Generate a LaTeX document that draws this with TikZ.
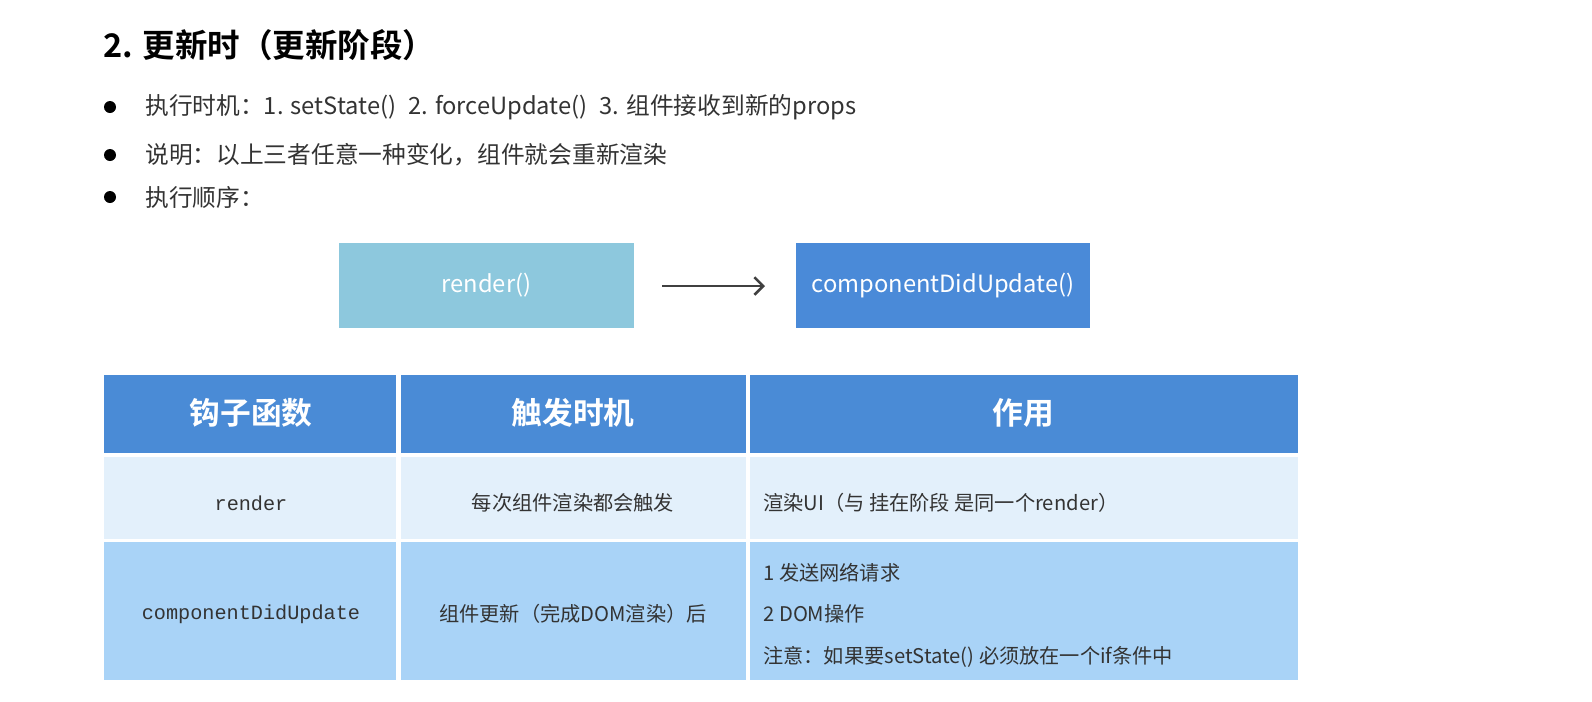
\documentclass[tikz,border=0pt]{standalone}
\usepackage{fontspec}
\setmainfont{Noto Sans CJK SC}
\newfontfamily\cjkbold{Noto Sans CJK SC Bold}
\setmonofont{Liberation Mono}
\usetikzlibrary{positioning,arrows.meta}
\definecolor{lightbox}{HTML}{8DC8DD}
\definecolor{darkbox}{HTML}{4A8AD8}
\definecolor{headfill}{HTML}{4A8BD6}
\definecolor{rowone}{HTML}{E3F0FB}
\definecolor{rowtwo}{HTML}{A9D3F7}
\definecolor{txt}{HTML}{333333}

\begin{document}
\begin{tikzpicture}[x=0.02cm,y=-0.02cm,
    stage/.style={minimum width=5.9cm,minimum height=1.7cm,inner sep=0pt,text=white,font=\fontsize{13.5}{15}\selectfont},
    cell/.style={anchor=west,inner sep=0pt,text=txt,font=\fontsize{11.5}{13}\selectfont},
    bullet/.style={anchor=west,inner sep=0pt,text=txt,font=\fontsize{13.5}{15}\selectfont}]
    \useasboundingbox[fill=white] (0,0) rectangle (1592,701);

    % Title and bullets
    \node[anchor=west,inner sep=0pt,font=\cjkbold\fontsize{18.5}{20}\selectfont] (title) at (103,45) {2. 更新时（更新阶段）};
    \foreach \y/\txt [count=\i] in {107/{执行时机：1. setState()\enspace 2. forceUpdate()\enspace 3. 组件接收到新的props},
        155/{说明：以上三者任意一种变化，组件就会重新渲染},
        197/{执行顺序：}} {
        \fill[black] (110,\y) circle (6);
        \node[bullet] (item\i) at (145,\y) {\txt};
    }

    % Order
    \node[stage,fill=lightbox] (render) at (486.5,285.5) {render()};
    \node[stage,fill=darkbox] (didupdate) at (943,285.5) {componentDidUpdate()};
    \coordinate (from) at (662,286);
    \coordinate (to) at (765,286);
    \draw[-{Straight Barb[length=5pt]},line width=1.5pt,black!75] (from) -- (to);

    % Table
    \fill[headfill] (104,375) rectangle (1298,453);
    \fill[rowone] (104,457) rectangle (1298,539);
    \fill[rowtwo] (104,542) rectangle (1298,680);
    \draw[white,line width=2.5pt] (398.5,375) -- (398.5,680) (748,375) -- (748,680);

    \node[font=\cjkbold\fontsize{17.5}{19}\selectfont,text=white] (hhook) at (251,413) {钩子函数};
    \node[font=\cjkbold\fontsize{17.5}{19}\selectfont,text=white] (hwhen) at (573,413) {触发时机};
    \node[font=\cjkbold\fontsize{17.5}{19}\selectfont,text=white] (huse) at (1023,413) {作用};

    \node[text=txt,font=\ttfamily\fontsize{11.5}{13}\selectfont] (rname) at (251,503) {render};
    \node[text=txt,font=\fontsize{11.5}{13}\selectfont] (rwhen) at (573,503) {每次组件渲染都会触发};
    \node[cell] (ruse) at (763,503) {渲染UI（与 挂在阶段 是同一个render）};

    \node[text=txt,font=\ttfamily\fontsize{11.5}{13}\selectfont] (cname) at (251,614) {componentDidUpdate};
    \node[text=txt,font=\fontsize{11.5}{13}\selectfont] (cwhen) at (573,614) {组件更新（完成DOM渲染）后};
    \node[cell] (cuse1) at (763,573) {1 发送网络请求};
    \node[cell] (cuse2) at (763,614) {2 DOM操作};
    \node[cell] (cuse3) at (763,657) {注意：如果要setState() 必须放在一个if条件中};
\end{tikzpicture}
\end{document}
